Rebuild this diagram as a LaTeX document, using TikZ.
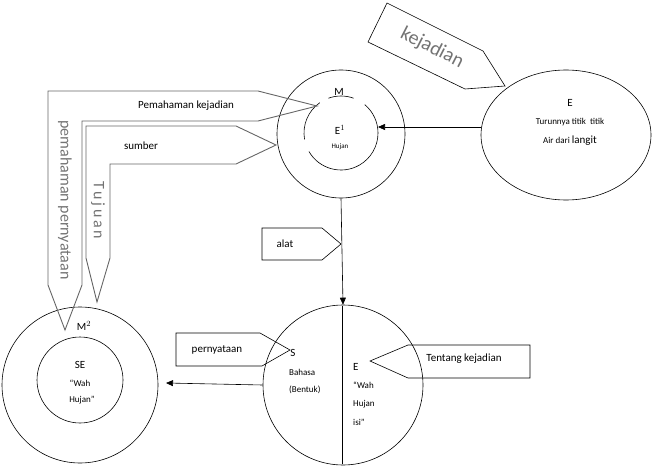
\documentclass[tikz,border=0pt]{standalone}
\usepackage{fontspec}
\setmainfont{Carlito}
\usetikzlibrary{arrows.meta,shapes.geometric}
\begin{document}
\begin{tikzpicture}[x=1pt,y=-1pt,
  ln/.style={draw=black,line width=0.6pt},
  gl/.style={draw=black!60,line width=0.9pt},
  arr/.style={ln,-{Triangle[length=7pt,width=6pt]}},
  t/.style={inner sep=0pt,font=\fontsize{11}{12}\selectfont},
  ts/.style={inner sep=0pt,font=\fontsize{9}{10}\selectfont},
  tt/.style={inner sep=0pt,font=\fontsize{7}{8}\selectfont},
  grtext/.style={inner sep=0pt,text=black!55}]
\useasboundingbox (0,0) rectangle (669,468);
% circles
\node (Mc) [circle,ln,minimum size=128pt] at (341,134) {};
\draw[ln] (341,133) ++(150:37) arc (150:-50:37);
\draw[ln] (341,133) ++(170:37) arc (170:235:37);
\draw[ln] (341,133) ++(250:37) arc (250:290:37);
\node (Ec) [ellipse,ln,minimum width=170pt,minimum height=130pt] at (566,135) {};
\node (Sc) [circle,ln,minimum size=160pt] at (343,385) {};
\draw[ln] (342,306) -- (342,464);
\node (M2) [circle,ln,minimum size=156pt] at (80,385) {};
\node (M2i) [circle,ln,minimum size=86pt] at (80,380) {};
\coordinate (Ein) at (378,127);
\coordinate (Sa) at (166,383);
% connectors
\draw[arr] (481,127) -- (Ein);
\draw[arr] (Mc.south) -- (Sc.north);
\draw[arr] (Sc.west) -- (Sa);
% callout shapes
\draw[gl] (48,91) -- (258,91) -- (317,106) -- (258,121) -- (82,121) -- (82,285) -- (65,330) -- (48,285) -- cycle;
\draw[gl] (86,126) -- (236,126) -- (276,145) -- (236,164) -- (110,164) -- (110,258) -- (97,302) -- (86,258) -- cycle;
\draw[ln] (262,228) -- (322,228) -- (341,244) -- (322,260) -- (262,260) -- cycle;
\draw[ln] (176,333) -- (260,333) -- (290,350) -- (262,366) -- (176,366) -- cycle;
\draw[ln] (530,345) -- (530,378) -- (408,378) -- (370,361) -- (408,345) -- cycle;
\draw[ln] (387,3) -- (483,51) -- (505,86) -- (465,89) -- (368,42) -- cycle;
% texts
\node[grtext,rotate=-27,font=\fontsize{20}{20}\selectfont] (kj) at (432,48) {kejadian};
\node[t] (pk) at (186,106) {Pemahaman kejadian};
\node[t] (sb) at (141,146) {sumber};
\node[t] (al) at (285,244) {alat};
\node[t] (py) at (217,350) {pernyataan};
\node[t] (tk) at (464,359) {Tentang kejadian};
\node[grtext,rotate=-90,font=\fontsize{16}{16}\selectfont] (pp) at (65,200) {pemahaman pernyataan};
\node[grtext,rotate=-90,font=\fontsize{16}{16}\selectfont] (tj) at (98,210) {T\,u\,j\,u\,a\,n};
\node[t] (m) at (339,92) {M};
\node[t] (e1) at (340,130) {E$^{1}$};
\node[tt] (hj) at (340,147) {Hujan};
\node[t] (e) at (570,103) {E};
\node[ts] (tt1) at (570,122) {Turunnya titik\ \ titik};
\node[ts] (tt2) at (570,141) {Air dari {\fontsize{11}{12}\selectfont langit}};
\node[t] (m2) at (84,326) {M$^{2}$};
\node[t] (se) at (80,365) {SE};
\node[ts] (w1) at (80,383) {“Wah};
\node[ts] (w2) at (82,400) {Hujan”};
\node[t] (s) at (293,353) {S};
\node[ts,anchor=west] (b1) at (289,372) {Bahasa};
\node[ts,anchor=west] (b2) at (289,390) {(Bentuk)};
\node[t,anchor=west] (e2) at (353,367) {E};
\node[ts,anchor=west] (h1) at (353,385) {“Wah};
\node[ts,anchor=west] (h2) at (353,404) {Hujan};
\node[ts,anchor=west] (h3) at (353,422) {isi”};
\end{tikzpicture}
\end{document}
